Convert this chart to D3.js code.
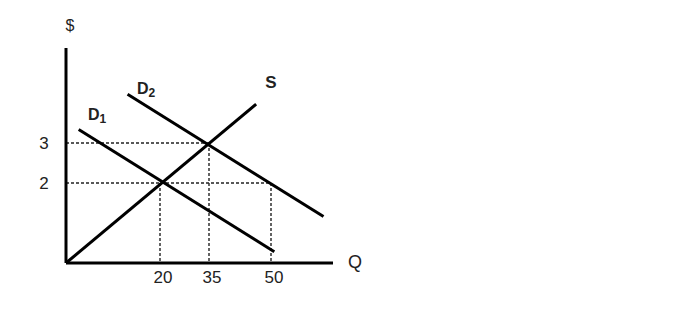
<!DOCTYPE html>
<html>
<head>
<meta charset="utf-8">
<script src="https://cdn.jsdelivr.net/npm/d3@7"></script>
<style>
  body { margin: 0; background: #fff; }
  text { font-family: "Liberation Sans", Arial, Helvetica, sans-serif; fill: #222; }
</style>
</head>
<body>
<div id="chart"></div>
<script>
var svgWidth = 691;
var svgHeight = 319;

// quantity ticks and price ticks
var qTicks = [20, 35, 50];
var pTicks = [2, 3];

// line end points as [Q, P]
var supply = [[0, 0], [46.4, 3.97]];
var demand1 = [[2.7, 3.34], [50.8, 0.28]];
var demand2 = [[13.1, 4.22], [62.7, 1.16]];

var qMax = 65;
var pMax = 5.375;

var svg = d3.select("#chart")
  .append("svg")
  .attr("width", svgWidth)
  .attr("height", svgHeight);

// the sketch is not drawn to scale on Q, so use a piecewise scale
var xScale = d3.scaleLinear()
  .domain([0, 20, 35, 50, qMax])
  .range([66, 160, 209, 271, 333]);

var yScale = d3.scaleLinear()
  .domain([0, pMax])
  .range([263, 48]);

var line = d3.line()
  .x(d => xScale(d[0]))
  .y(d => yScale(d[1]));

// dashed guide lines
var guides = svg.append("g")
  .attr("stroke", "#222")
  .attr("stroke-width", 1.4)
  .attr("stroke-dasharray", "3,2")
  .attr("fill", "none");

var hGuides = [[3, 35], [2, 50]];
hGuides.forEach(function(g) {
  guides.append("path").attr("d", line([[0, g[0]], [g[1], g[0]]]));
});

var vGuides = [[20, 2], [35, 3], [50, 2]];
vGuides.forEach(function(g) {
  guides.append("path").attr("d", line([[g[0], g[1]], [g[0], 0]]));
});

// axes
var axes = svg.append("g")
  .attr("stroke", "#000")
  .attr("stroke-width", 3)
  .attr("fill", "none");

axes.append("path").attr("d", line([[0, pMax], [0, 0]]));
axes.append("path").attr("d", line([[0, 0], [qMax, 0]]));

// supply and demand lines
var curves = svg.append("g")
  .attr("stroke", "#000")
  .attr("stroke-width", 3)
  .attr("fill", "none");

[supply, demand1, demand2].forEach(function(c) {
  curves.append("path").attr("d", line(c));
});

// tick labels
svg.selectAll(".qlabel")
  .data(qTicks)
  .enter()
  .append("text")
  .attr("class", "qlabel")
  .attr("x", d => xScale(d) + 3)
  .attr("y", 283)
  .attr("text-anchor", "middle")
  .attr("font-size", "17px")
  .text(d => d);

svg.selectAll(".plabel")
  .data(pTicks)
  .enter()
  .append("text")
  .attr("class", "plabel")
  .attr("x", 44)
  .attr("y", d => yScale(d))
  .attr("dy", "0.36em")
  .attr("text-anchor", "middle")
  .attr("font-size", "17px")
  .text(d => d);

// axis names
svg.append("text")
  .attr("x", 70)
  .attr("y", 31)
  .attr("text-anchor", "middle")
  .attr("font-size", "16px")
  .text("$");

svg.append("text")
  .attr("x", 355)
  .attr("y", 268)
  .attr("text-anchor", "middle")
  .attr("font-size", "18px")
  .text("Q");

// curve labels
svg.append("text")
  .attr("x", 271)
  .attr("y", 88)
  .attr("text-anchor", "middle")
  .attr("font-size", "17px")
  .attr("font-weight", "bold")
  .text("S");

function demandLabel(x, y, sub) {
  var t = svg.append("text")
    .attr("x", x)
    .attr("y", y)
    .attr("font-size", "16px")
    .attr("font-weight", "bold");
  t.append("tspan").text("D");
  t.append("tspan")
    .attr("font-size", "12px")
    .attr("dy", 3)
    .text(sub);
}

demandLabel(88, 120, "1");
demandLabel(137, 94, "2");
</script>
</body>
</html>
